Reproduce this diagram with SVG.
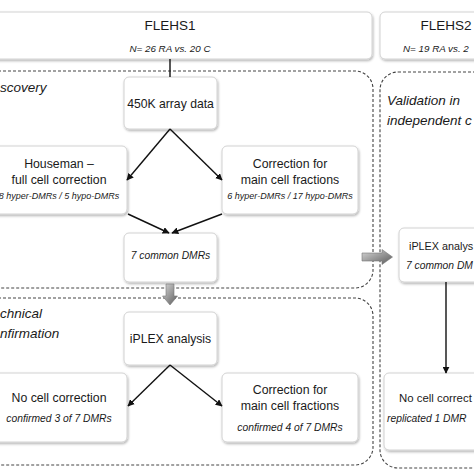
<svg xmlns="http://www.w3.org/2000/svg" width="474" height="474" viewBox="0 0 474 474">
<style>
.box{fill:#fff;stroke:#d2d2d2;stroke-width:1;filter:url(#sh)}
.t{font-family:"Liberation Sans",Arial,sans-serif;fill:#1a1a1a}
.m{text-anchor:middle}
.i{font-style:italic}
.reg{fill:none;stroke:#444;stroke-width:1.1;stroke-dasharray:3 2}
.con{stroke:#111;stroke-width:1.4;fill:none}
</style>
<defs>
<filter id="sh" x="-10%" y="-10%" width="130%" height="140%">
<feDropShadow dx="0.8" dy="1.5" stdDeviation="1.1" flood-color="#000" flood-opacity="0.3"/>
</filter>
<marker id="ah" viewBox="0 0 10 10" refX="9" refY="5" markerWidth="7" markerHeight="7" markerUnits="userSpaceOnUse" orient="auto">
<path d="M0,0 L10,5 L0,10 Z" fill="#111"/>
</marker>
<linearGradient id="gd" x1="0" y1="0" x2="1" y2="1">
<stop offset="0" stop-color="#d8d8d8"/>
<stop offset="1" stop-color="#5a5a5a"/>
</linearGradient>
<linearGradient id="gr" x1="0" y1="0" x2="1" y2="1">
<stop offset="0" stop-color="#d8d8d8"/>
<stop offset="1" stop-color="#5a5a5a"/>
</linearGradient>
</defs>
<rect width="474" height="474" fill="#fff"/>

<g id="regions">
<rect class="reg" x="-30" y="71" width="403" height="217" rx="18"/>
<rect class="reg" x="-30" y="298" width="403" height="167" rx="18"/>
<rect class="reg" x="380" y="72" width="130" height="396" rx="18"/>
<text class="t i" x="0" y="92" font-size="13.5">scovery</text>
<text class="t i" x="0" y="318" font-size="13.5">chnical</text>
<text class="t i" x="0" y="338" font-size="13.5">nfirmation</text>
<text class="t i" x="387" y="105" font-size="13.5">Validation in</text>
<text class="t i" x="387" y="125" font-size="13.5">independent c</text>
</g>

<g id="flehs1">
<rect class="box" x="-10" y="12" width="382" height="47" rx="5"/>
<text class="t m" x="170" y="30" font-size="13.5">FLEHS1</text>
<text class="t m i" x="170" y="51.5" font-size="9.8">N= 26 RA vs. 20 C</text>
</g>
<g id="flehs2">
<rect class="box" x="380" y="12" width="120" height="47" rx="5"/>
<text class="t m" x="446" y="30" font-size="13.5">FLEHS2</text>
<text class="t i" x="403" y="51.5" font-size="9.8">N= 19 RA vs. 2</text>
</g>

<g id="array450k">
<rect class="box" x="124" y="77" width="93" height="52" rx="5"/>
<text class="t m" x="170.5" y="107.5" font-size="12.2">450K array data</text>
</g>
<g id="houseman">
<rect class="box" x="-10" y="146" width="137" height="68" rx="5"/>
<text class="t m" x="59" y="167.5" font-size="12.3">Houseman –</text>
<text class="t m" x="59" y="183.5" font-size="12.3">full cell correction</text>
<text class="t m i" x="59" y="199" font-size="9">8 hyper-DMRs / 5 hypo-DMRs</text>
</g>
<g id="correction1">
<rect class="box" x="222" y="146" width="136" height="68" rx="5"/>
<text class="t m" x="290" y="167.5" font-size="12.3">Correction for</text>
<text class="t m" x="290" y="183.5" font-size="12.3">main cell fractions</text>
<text class="t m i" x="290" y="199" font-size="9">6 hyper-DMRs / 17 hypo-DMRs</text>
</g>
<g id="common">
<rect class="box" x="124" y="233" width="93" height="49" rx="5"/>
<text class="t m i" x="170.5" y="259" font-size="10.3">7 common DMRs</text>
</g>
<g id="iplex1">
<rect class="box" x="124" y="312" width="93" height="53" rx="5"/>
<text class="t m" x="170.5" y="343" font-size="12.2">iPLEX analysis</text>
</g>
<g id="nocell1">
<rect class="box" x="-10" y="373" width="137" height="69" rx="5"/>
<text class="t m" x="59" y="401.5" font-size="12.3">No cell correction</text>
<text class="t m i" x="59" y="421.5" font-size="10.3">confirmed 3 of 7 DMRs</text>
</g>
<g id="correction2">
<rect class="box" x="222" y="373" width="136" height="69" rx="5"/>
<text class="t m" x="290" y="393.5" font-size="12.3">Correction for</text>
<text class="t m" x="290" y="409.5" font-size="12.3">main cell fractions</text>
<text class="t m i" x="290" y="430.5" font-size="10.3">confirmed 4 of 7 DMRs</text>
</g>
<g id="iplex2">
<rect class="box" x="399" y="228" width="100" height="54" rx="5"/>
<text class="t" x="409" y="249.5" font-size="10.8">iPLEX analys</text>
<text class="t i" x="406" y="268.5" font-size="10.3">7 common DM</text>
</g>
<g id="nocell2">
<rect class="box" x="384" y="373" width="130" height="77" rx="5"/>
<text class="t" x="399" y="401.5" font-size="11.4">No cell correct</text>
<text class="t i" x="387" y="421.5" font-size="10.3">replicated 1 DMR</text>
</g>

<g id="connectors">
<line class="con" x1="170" y1="59" x2="170" y2="77"/>
<line class="con" x1="170" y1="129" x2="127" y2="180" marker-end="url(#ah)"/>
<line class="con" x1="170" y1="129" x2="222" y2="180" marker-end="url(#ah)"/>
<line class="con" x1="128" y1="214" x2="169" y2="233" marker-end="url(#ah)"/>
<line class="con" x1="222" y1="214" x2="172" y2="233" marker-end="url(#ah)"/>
<line class="con" x1="170" y1="365" x2="128" y2="406" marker-end="url(#ah)"/>
<line class="con" x1="170" y1="365" x2="222" y2="406" marker-end="url(#ah)"/>
<line class="con" x1="446" y1="282" x2="446" y2="373" marker-end="url(#ah)"/>
<path d="M166,284 H174 V296 H177.5 L170,305 L162.5,296 H166 Z" fill="url(#gd)" stroke="#777" stroke-width="0.6"/>
<path d="M362,253 H382 V249.5 L392.5,257 L382,264.5 V261 H362 Z" fill="url(#gr)" stroke="#777" stroke-width="0.6"/>
</g>
</svg>
